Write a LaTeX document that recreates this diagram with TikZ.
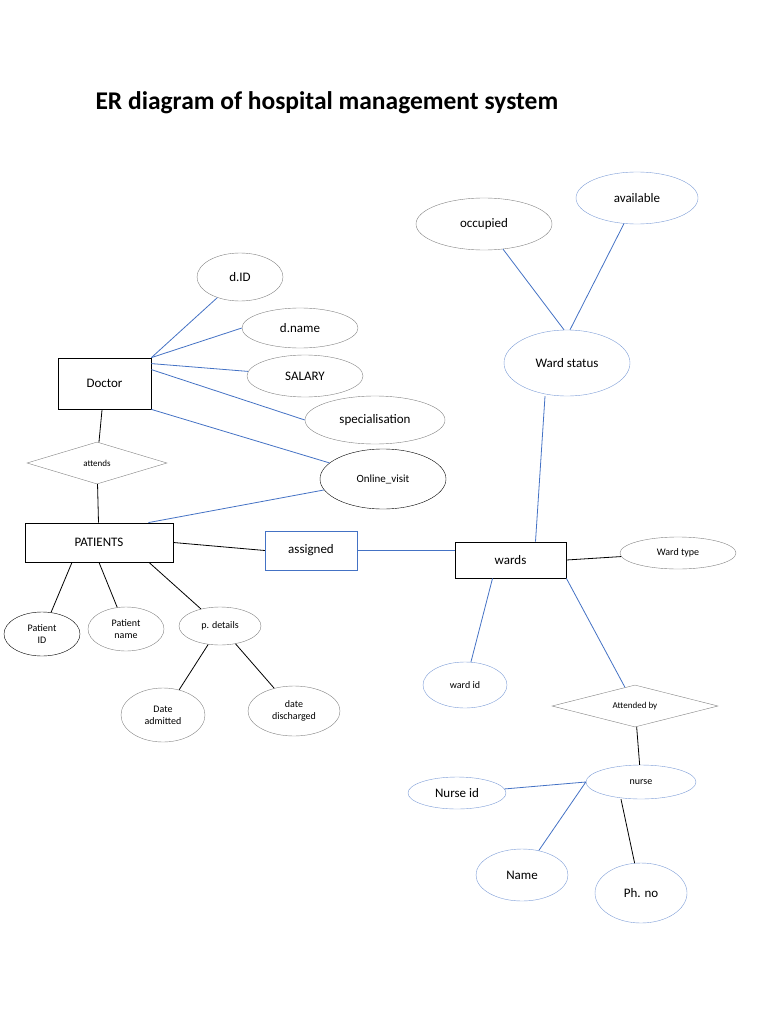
\documentclass[tikz,border=0pt]{standalone}
\usepackage{fontspec}
\setmainfont{Carlito}
\usetikzlibrary{shapes.geometric}
\definecolor{bl}{RGB}{68,114,196}
\definecolor{gr}{RGB}{130,130,130}
\begin{document}
\begin{tikzpicture}[x=1pt,y=-1pt,
 ell/.style={ellipse,draw=gr,inner sep=0pt,align=center,font=\fontsize{10}{12}\selectfont},
 ellb/.style={ell,draw=bl!70},
 ellk/.style={ell,draw=black},
 ent/.style={draw=black,thick,rectangle,inner sep=0pt,font=\fontsize{13}{15}\selectfont},
 rel/.style={diamond,draw=gr,inner sep=0pt,aspect=3.3,font=\fontsize{9}{11}\selectfont},
 bline/.style={draw=bl,thick},
 kline/.style={draw=black,thick}]
\useasboundingbox (0,0) rectangle (768,1024);
\node[font=\bfseries\fontsize{25.5}{30}\selectfont,anchor=west] (title) at (92,103) {ER diagram of hospital management system};
% Doctor side
\node[ent,minimum width=93,minimum height=51] (doc) at (104.5,383.5) {Doctor};
\node[ell,minimum width=86,minimum height=48,font=\fontsize{13}{15}\selectfont] (did) at (240,277) {d.ID};
\node[ell,minimum width=116,minimum height=40,font=\fontsize{13}{15}\selectfont] (dname) at (300,328) {d.name};
\node[ell,minimum width=116,minimum height=42,font=\fontsize{13}{15}\selectfont] (sal) at (305,376) {SALARY};
\node[ell,minimum width=140,minimum height=48,font=\fontsize{13}{15}\selectfont] (spec) at (375,420) {specialisation};
\node[ellk,minimum width=126,minimum height=60,font=\fontsize{11}{13}\selectfont] (onl) at (383,479) {Online\_visit};
\node[rel,minimum width=140,minimum height=42] (att) at (97,463) {attends};
\node[ent,minimum width=148,minimum height=39] (pat) at (99,542.5) {PATIENTS};
\node[ellk,minimum width=76,minimum height=44] (pid) at (42,634) {Patient\\ID};
\node[ell,minimum width=76,minimum height=44] (pname) at (126,629) {Patient\\name};
\node[ell,minimum width=82,minimum height=38] (pdet) at (220,626) {p. details};
\node[ell,minimum width=84,minimum height=54] (dadm) at (163,715) {Date\\admitted};
\node[ell,minimum width=92,minimum height=50] (ddis) at (294,711) {date\\discharged};
\node[ent,draw=bl,thin,minimum width=92,minimum height=39] (asg) at (311,550.5) {assigned};
% wards side
\node[ent,minimum width=111,minimum height=36] (wards) at (510.5,560) {wards};
\node[ellb,minimum width=126,minimum height=66,font=\fontsize{13}{15}\selectfont] (wst) at (567,363) {Ward status};
\node[ell,minimum width=136,minimum height=52,font=\fontsize{13}{15}\selectfont] (occ) at (484,224) {occupied};
\node[ellb,minimum width=122,minimum height=52,font=\fontsize{13}{15}\selectfont] (avl) at (637,198) {available};
\node[ell,minimum width=116,minimum height=32] (wtype) at (678,553) {Ward type};
\node[ellb,minimum width=84,minimum height=46] (wid) at (465,685) {ward id};
\node[rel,minimum width=166,minimum height=42] (attby) at (635,706) {Attended by};
\node[ellb,minimum width=110,minimum height=34] (nurse) at (641,782) {nurse};
\node[ellb,minimum width=98,minimum height=32,font=\fontsize{13}{15}\selectfont] (nid) at (457,793) {Nurse id};
\node[ellb,minimum width=92,minimum height=52,font=\fontsize{13}{15}\selectfont] (nm) at (522,875) {Name};
\node[ellb,minimum width=92,minimum height=60,font=\fontsize{13}{15}\selectfont] (ph) at (641,893) {Ph. no};
\coordinate (dne) at (doc.north east);
\coordinate (dne2) at ([yshift=-6]doc.north east);
\coordinate (dne3) at ([yshift=-12]doc.north east);
% connectors
\draw[bline] (dne) -- (did);
\draw[bline] (dne) -- (dname.west);
\draw[bline] (dne2) -- (sal);
\draw[bline] (dne3) -- (spec.west);
\draw[bline] (doc.south east) -- (onl);
\draw[bline] ([xshift=-25]pat.north east) -- (onl);
\draw[kline] (doc) -- (att);
\draw[kline] (att) -- (pat);
\draw[kline] (pat.east) -- (asg.west);
\draw[bline,thin] (asg.east) -- (asg.east -| wards.west);
\draw[kline] ([xshift=-27]pat.south) -- (pid);
\draw[kline] (pat.south) -- (pname);
\draw[kline] ([xshift=50]pat.south) -- (pdet);
\draw[kline] (pdet) -- (dadm);
\draw[kline] (pdet) -- (ddis);
\draw[bline] (occ) -- ([xshift=-3]wst.north);
\draw[bline] (avl) -- ([xshift=3]wst.north);
\draw[bline] ([xshift=-22]wst.south) -- ([xshift=25]wards.north);
\draw[kline] (wards.east) -- (wtype);
\draw[bline] ([xshift=-18]wards.south) -- (wid);
\draw[bline] (wards.south east) -- (attby);
\draw[kline] (attby) -- (nurse);
\draw[bline] (nurse.west) -- (nid);
\draw[bline] (nurse.west) -- (nm);
\draw[kline] ([xshift=-20]nurse.south) -- (ph);
\end{tikzpicture}
\end{document}
